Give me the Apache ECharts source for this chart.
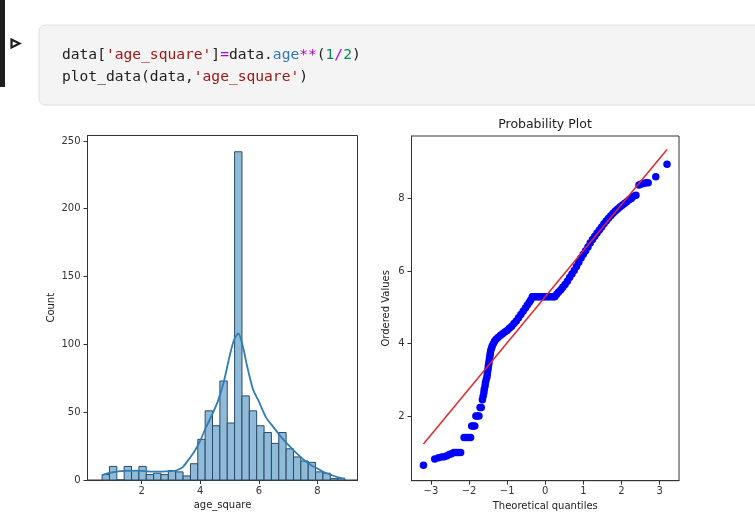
<!DOCTYPE html>
<html><head><meta charset="utf-8">
<script src="https://cdn.jsdelivr.net/npm/echarts@6/dist/echarts.min.js"></script>
<style>html,body{margin:0;padding:0;background:#fff}#c{width:755px;height:530px}</style>
</head><body><div id="c"></div>
<script>
// ---- Histogram (left panel) ----
const histCounts = [4,10,0,10,7,10,4,5,4,7,6,3,12,30,51,40,73,42,242,62,51,40,35,27,35,23,17,14,13,6,5,1,1];
const binStart = 0.648;
const binWidth = 0.2514;
const kdePoints = [
  [0.65,3.6],[0.9,5.2],[1.2,6.4],[1.5,6.8],[1.8,6.9],[2.1,6.6],[2.4,6.2],[2.7,6.2],[3.0,6.5],
  [3.2,7.2],[3.4,9.5],[3.6,15],[3.8,21],[4.0,29],[4.2,39],[4.4,48],[4.6,58],[4.8,72],
  [5.0,91],[5.15,103],[5.3,108],[5.45,99],[5.6,84],[5.8,67],[6.0,58],[6.25,46],[6.5,39],
  [6.75,32],[7.0,26],[7.25,20.5],[7.5,15.5],[7.75,11.5],[8.0,8.5],[8.25,5.5],[8.5,3.5],[8.75,1.8],[8.94,1]
];
const histXTicks = [2,4,6,8];
const histYTicks = [0,50,100,150,200,250];

// ---- Probability plot (right panel) ----
const qqPoints = [
  [-3.196,0.648],
  [-2.90,0.82],[-2.80,0.85],[-2.72,0.87],[-2.65,0.88],[-2.58,0.91],[-2.52,0.94],[-2.46,0.96],
  [-2.40,1.0],[-2.34,1.0],[-2.28,1.0],[-2.22,1.0],
  [-2.13,1.41],[-2.07,1.41],[-2.01,1.41],[-1.96,1.41],
  [-1.93,1.73],[-1.89,1.73],[-1.85,1.73],
  [-1.82,2.0],[-1.78,2.0],[-1.74,2.0],
  [-1.71,2.24],[-1.68,2.24],
  [-1.65,2.45],[-1.63,2.55],[-1.61,2.65],[-1.60,2.74],[-1.58,2.83],[-1.57,2.92],[-1.55,3.0],
  [-1.53,3.08],[-1.52,3.16],[-1.51,3.24],[-1.50,3.32],[-1.49,3.40],[-1.48,3.46],[-1.47,3.54],
  [-1.46,3.61],[-1.45,3.68],[-1.44,3.74],[-1.43,3.81],[-1.41,3.87],[-1.39,3.94],[-1.36,4.0],
  [-1.33,4.06],[-1.29,4.12],[-1.24,4.17],[-1.18,4.22],[-1.12,4.27],[-1.06,4.32],[-1.00,4.36],
  [-0.94,4.42],[-0.88,4.48],[-0.82,4.55],[-0.76,4.62],[-0.70,4.71],[-0.64,4.80],[-0.58,4.89],
  [-0.52,4.98],[-0.47,5.06],[-0.42,5.14],[-0.38,5.20],
  [-0.34,5.29],[-0.29,5.29],[-0.24,5.29],[-0.19,5.29],[-0.14,5.29],[-0.09,5.29],[-0.04,5.29],
  [0.01,5.29],[0.06,5.29],[0.11,5.29],[0.16,5.29],[0.21,5.29],[0.25,5.29],
  [0.30,5.36],[0.35,5.42],[0.41,5.48],[0.46,5.55],[0.52,5.63],[0.58,5.72],[0.64,5.82],
  [0.70,5.92],[0.76,6.01],[0.82,6.12],[0.88,6.24],[0.94,6.36],[1.00,6.46],[1.06,6.56],
  [1.12,6.66],[1.18,6.77],[1.24,6.87],[1.30,6.96],[1.36,7.05],[1.42,7.13],[1.48,7.21],
  [1.54,7.30],[1.60,7.38],[1.66,7.45],[1.72,7.52],[1.78,7.59],[1.84,7.65],[1.90,7.71],
  [1.96,7.76],[2.02,7.81],[2.08,7.86],[2.14,7.91],[2.20,7.96],[2.26,8.0],[2.32,8.06],[2.38,8.09],
  [2.46,8.37],[2.52,8.40],[2.58,8.41],[2.64,8.43],[2.70,8.43],
  [2.90,8.60],[3.196,8.94]
];
const fitLine = [[-3.196,1.23],[3.196,9.35]];
const qqXTicks = [-3,-2,-1,0,1,2,3];
const qqYTicks = [2,4,6,8];

const FONT = 'DejaVu Sans';
const MONO = 'DejaVu Sans Mono';
const AX = '#333';
const histData = histCounts.map((c, i) => [binStart + i * binWidth, binStart + (i + 1) * binWidth, c]);
const minusFmt = v => String(v).replace('-', '\u2212');

function axisCommon(ticks, name, gap, rotate, margin) {
  return {
    type: 'value', name: name, nameLocation: 'middle', nameGap: gap, nameRotate: rotate,
    nameTextStyle: {fontFamily: FONT, fontSize: 10, color: '#222'},
    axisLine: {show: true, onZero: false, lineStyle: {color: AX, width: 1}},
    axisTick: {show: true, inside: false, length: 4, lineStyle: {color: AX}, customValues: ticks},
    axisLabel: {fontFamily: FONT, fontSize: 10, color: '#333', margin: margin, customValues: ticks, formatter: minusFmt},
    splitLine: {show: false}
  };
}

const chart = echarts.init(document.getElementById('c'), null, {renderer: 'canvas'});
const codeStyle = {fontFamily: MONO, fontSize: 14.6};
chart.setOption({
  animation: false,
  backgroundColor: '#fff',
  graphic: [
    {type: 'rect', shape: {x: 0, y: 0, width: 5, height: 87}, style: {fill: '#1e1e1e'}},
    {type: 'polygon', shape: {points: [[11.5, 39.5], [11.5, 47.5], [19.5, 43.5]]},
      style: {fill: 'none', stroke: '#1e1e1e', lineWidth: 2.2, lineJoin: 'miter'}},
    {type: 'rect', shape: {x: 39, y: 25, width: 740, height: 80, r: 6},
      style: {fill: '#f4f4f4', stroke: '#e0e0e0', lineWidth: 1}},
    {type: 'text', x: 62, y: 55, style: {
      text: "{t|data[}{s|'age_square'}{t|]}{o|=}{t|data.}{b|age}{o|**}{t|(}{n|1}{o|/}{n|2}{t|)}",
      fontFamily: MONO, fontSize: 14.6, verticalAlign: 'middle', fill: '#212121',
      rich: {
        t: Object.assign({fill: '#212121'}, codeStyle),
        s: Object.assign({fill: '#a31515'}, codeStyle),
        o: Object.assign({fill: '#af00db'}, codeStyle),
        b: Object.assign({fill: '#2f77c0'}, codeStyle),
        n: Object.assign({fill: '#098658'}, codeStyle)
      }}},
    {type: 'text', x: 62, y: 77, style: {
      text: "{t|plot_data(data,}{s|'age_square'}{t|)}",
      fontFamily: MONO, fontSize: 14.6, verticalAlign: 'middle', fill: '#212121',
      rich: {
        t: Object.assign({fill: '#212121'}, codeStyle),
        s: Object.assign({fill: '#a31515'}, codeStyle)
      }}},
    {type: 'text', x: 545, y: 125, style: {
      text: 'Probability Plot', fontFamily: FONT, fontSize: 12.5, fill: '#222',
      align: 'center', verticalAlign: 'middle'}}
  ],
  grid: [
    {left: 87.5, top: 135.5, width: 270, height: 344.5, show: true, borderColor: AX, borderWidth: 1, containLabel: false},
    {left: 411.5, top: 136, width: 267.5, height: 344.7, show: true, borderColor: AX, borderWidth: 1, containLabel: false}
  ],
  xAxis: [
    Object.assign(axisCommon(histXTicks, 'age_square', 19, 0, 6), {gridIndex: 0, min: 0.15, max: 9.37}),
    Object.assign(axisCommon(qqXTicks, 'Theoretical quantiles', 20, 0, 6), {gridIndex: 1, min: -3.51, max: 3.51})
  ],
  yAxis: [
    Object.assign(axisCommon(histYTicks, 'Count', 31, 90, 7), {gridIndex: 0, min: 0, max: 254}),
    Object.assign(axisCommon(qqYTicks, 'Ordered Values', 20, 90, 7), {gridIndex: 1, min: 0.22, max: 9.72})
  ],
  series: [
    {
      type: 'custom', xAxisIndex: 0, yAxisIndex: 0, data: histData,
      encode: {x: [0, 1], y: 2},
      renderItem: function (params, api) {
        const p0 = api.coord([api.value(0), 0]);
        const p1 = api.coord([api.value(1), api.value(2)]);
        return {type: 'rect', shape: {x: p0[0], y: p1[1], width: p1[0] - p0[0], height: p0[1] - p1[1]},
          style: {fill: '#8fbbd9', stroke: '#2b4a66', lineWidth: 1}};
      }
    },
    {
      type: 'line', xAxisIndex: 0, yAxisIndex: 0, data: kdePoints, smooth: 0.3,
      showSymbol: false, lineStyle: {color: '#2f7db5', width: 1.8}, z: 3
    },
    {
      type: 'scatter', xAxisIndex: 1, yAxisIndex: 1, data: qqPoints,
      symbolSize: 7.5, itemStyle: {color: '#0000ff', opacity: 1}
    },
    {
      type: 'line', xAxisIndex: 1, yAxisIndex: 1, data: fitLine,
      showSymbol: false, lineStyle: {color: '#e0282e', width: 1.5}, z: 4
    }
  ]
});
</script>
</body></html>
